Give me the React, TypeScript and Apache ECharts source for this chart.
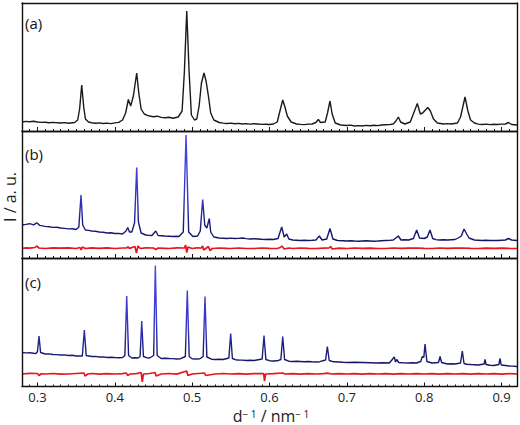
import React, { useEffect, useRef } from "react";
import * as echarts from "echarts";

// x: d^-1 (nm^-1), y: intensity (a.u.)
const xRange = [0.28, 0.92];
const panelLabels = ["(a)", "(b)", "(c)"];
const xAxisTitle = "{n|d}{s|− 1}{n| / nm}{s|− 1}";
const yAxisTitle = "I / a. u.";

const patternA: [number, number][] = [
  [0.28, 9], [0.285, 9.6], [0.29, 9.3], [0.295, 9.8], [0.30, 9], [0.305, 8.6], [0.31, 8.8], [0.315, 8.2], [0.32, 8.6], [0.33, 8], [0.335, 8.4], [0.34, 7.8], [0.348, 8.5],
  [0.352, 11], [0.3545, 22], [0.3572, 46], [0.3598, 24], [0.362, 12], [0.366, 9], [0.37, 8.3], [0.375, 7.7], [0.38, 8.1], [0.385, 7.5], [0.39, 7.9], [0.395, 7.4],
  [0.40, 8.1], [0.405, 8.6], [0.41, 11], [0.414, 18], [0.4175, 31.5], [0.4205, 25], [0.424, 35], [0.4283, 58], [0.431, 38], [0.434, 22], [0.438, 17],
  [0.442, 15.6], [0.445, 15], [0.45, 14.2], [0.455, 14.8], [0.46, 13.6], [0.465, 13.2], [0.47, 13.8], [0.475, 12.8], [0.482, 14], [0.487, 20],
  [0.490, 60], [0.4930, 120], [0.4960, 60], [0.499, 16], [0.503, 11], [0.506, 12], [0.509, 25], [0.512, 48], [0.5153, 58], [0.518, 50], [0.521, 35],
  [0.524, 18], [0.528, 11], [0.535, 8.5], [0.54, 7.9], [0.545, 7.5], [0.55, 7.9], [0.555, 7.3], [0.56, 7.6], [0.565, 7], [0.57, 7.4], [0.575, 6.9], [0.58, 7.3],
  [0.585, 7], [0.59, 6.6], [0.595, 6.8], [0.60, 6.5], [0.605, 7], [0.61, 9], [0.6135, 20], [0.6171, 31], [0.620, 24], [0.623, 15], [0.628, 9],
  [0.635, 7], [0.64, 6.6], [0.645, 6.4], [0.65, 6.9], [0.655, 7], [0.66, 8.5], [0.6631, 11.5], [0.666, 8.5], [0.672, 9], [0.675, 18], [0.6782, 30],
  [0.681, 17], [0.685, 8], [0.692, 6], [0.70, 5.5], [0.705, 5.9], [0.71, 5], [0.715, 5.4], [0.72, 5], [0.725, 5.6], [0.73, 5.3], [0.735, 5.8], [0.74, 5.4],
  [0.745, 6], [0.75, 6.2], [0.755, 6.4], [0.76, 7], [0.7635, 10], [0.7666, 14], [0.7695, 9], [0.775, 7], [0.782, 9], [0.786, 17], [0.7911, 27.5],
  [0.795, 17], [0.798, 18], [0.8046, 23.5], [0.808, 20], [0.812, 12], [0.817, 8], [0.825, 7], [0.83, 7.4], [0.835, 7], [0.843, 8], [0.847, 14],
  [0.8528, 34], [0.8565, 20], [0.86, 11], [0.865, 8], [0.87, 6.9], [0.875, 6.5], [0.88, 6.9], [0.885, 6.4], [0.89, 6.8], [0.895, 6.5], [0.90, 6.9],
  [0.905, 7], [0.909, 8.5], [0.913, 6.5], [0.92, 6],
];

const patternBObs: [number, number][] = [
  [0.28, 33], [0.285, 33.6], [0.29, 34.3], [0.295, 33.2], [0.299, 35.2], [0.303, 32.6], [0.31, 31.6], [0.315, 31.2], [0.32, 30.6], [0.325, 30.8], [0.33, 30],
  [0.335, 29.6], [0.34, 29.1], [0.345, 29.3], [0.35, 28.5], [0.3535, 31], [0.3563, 63], [0.3585, 33], [0.362, 28], [0.366, 27.6], [0.37, 27], [0.375, 26.7],
  [0.38, 26], [0.385, 25.8], [0.39, 25], [0.395, 25.2], [0.40, 24.5], [0.405, 24.6], [0.41, 24], [0.4145, 27], [0.4167, 30.5], [0.419, 26], [0.422, 26],
  [0.4255, 35], [0.4283, 90.5], [0.4305, 36], [0.434, 25], [0.44, 23], [0.444, 22.6], [0.448, 22.5], [0.4529, 27], [0.456, 22.5], [0.46, 22.3], [0.465, 22],
  [0.47, 21.8], [0.475, 21.5], [0.48, 21.7], [0.483, 21.5], [0.4885, 26], [0.4921, 123], [0.4955, 26], [0.501, 21.5], [0.507, 22], [0.5105, 27],
  [0.5136, 58.5], [0.5163, 33], [0.519, 30], [0.5222, 39.5], [0.524, 26], [0.528, 21], [0.535, 20], [0.54, 19.8], [0.545, 19.5], [0.55, 19.9],
  [0.555, 19.5], [0.56, 19.6], [0.565, 20], [0.57, 19.4], [0.575, 19], [0.58, 19.3], [0.585, 19], [0.59, 18.7], [0.595, 18.5], [0.60, 18.8], [0.605, 18.5],
  [0.611, 19.5], [0.6158, 31], [0.619, 21], [0.6222, 24], [0.625, 19], [0.63, 18], [0.635, 17.8], [0.64, 17.5], [0.645, 17.8], [0.65, 17.5], [0.655, 17.7],
  [0.66, 18], [0.6644, 22], [0.668, 18], [0.674, 19], [0.6782, 29.5], [0.682, 19], [0.688, 17.5], [0.695, 17.2], [0.70, 17], [0.705, 17.3], [0.71, 17],
  [0.715, 16.8], [0.72, 17], [0.725, 17.2], [0.73, 17], [0.735, 16.8], [0.74, 17], [0.745, 17.3], [0.75, 17.5], [0.755, 17.6], [0.76, 18], [0.7666, 22],
  [0.770, 18], [0.775, 18.2], [0.78, 18], [0.786, 19.5], [0.7903, 28], [0.794, 20], [0.80, 19.5], [0.804, 21], [0.8075, 28], [0.811, 19.5], [0.815, 18.4],
  [0.82, 18], [0.825, 18.2], [0.83, 18], [0.835, 18.3], [0.84, 18.5], [0.845, 20.5], [0.848, 22], [0.8515, 29], [0.855, 24], [0.858, 20], [0.865, 18],
  [0.87, 17.8], [0.875, 17.5], [0.88, 17.7], [0.885, 17.5], [0.89, 17.6], [0.895, 17.5], [0.90, 17.8], [0.905, 18], [0.909, 19.5], [0.913, 18], [0.92, 17.5],
];

const patternBDiff: [number, number][] = [
  [0.28, 9.5], [0.285, 10.2], [0.29, 9.8], [0.297, 10.5], [0.299, 12], [0.302, 10], [0.31, 9.5], [0.32, 10.1], [0.33, 9.8], [0.34, 10.2], [0.35, 9.5],
  [0.355, 10.5], [0.3565, 8], [0.358, 11], [0.362, 9.5], [0.37, 10.1], [0.38, 9.7], [0.39, 10.1], [0.40, 9.5], [0.41, 10], [0.415, 10], [0.417, 11],
  [0.419, 9.6], [0.426, 11.5], [0.428, 5], [0.430, 12], [0.433, 9.5], [0.44, 10.1], [0.45, 10], [0.453, 8.5], [0.456, 10], [0.465, 9.7], [0.47, 9.5],
  [0.48, 10.1], [0.49, 10], [0.4915, 13], [0.493, 5.5], [0.4945, 11], [0.50, 9.5], [0.506, 10.1], [0.512, 10], [0.5135, 12], [0.515, 8],
  [0.521, 11.5], [0.523, 7.5], [0.526, 9.5], [0.535, 10], [0.545, 9.6], [0.55, 9.5], [0.56, 10], [0.57, 9.5], [0.58, 9.5], [0.59, 10], [0.60, 9.6],
  [0.61, 9.5], [0.614, 10.5], [0.616, 12], [0.619, 9], [0.625, 10], [0.63, 9.5], [0.64, 10], [0.65, 9.6], [0.66, 9.5], [0.67, 9.9], [0.677, 10],
  [0.679, 11.5], [0.681, 9], [0.69, 9.8], [0.70, 9.5], [0.71, 10], [0.72, 9.6], [0.73, 9.9], [0.74, 9.5], [0.75, 9.5], [0.76, 10], [0.77, 9.6],
  [0.78, 9.9], [0.79, 10], [0.80, 9.6], [0.81, 9.5], [0.82, 10], [0.83, 9.6], [0.84, 9.9], [0.85, 10], [0.86, 9.6], [0.87, 9.5], [0.88, 9.9],
  [0.89, 9.6], [0.90, 9.9], [0.91, 9.6], [0.92, 9.5],
];

const patternCObs: [number, number][] = [
  [0.28, 34], [0.285, 33.6], [0.29, 33.8], [0.295, 33.2], [0.298, 33], [0.300, 35], [0.302, 50.5], [0.304, 34], [0.31, 32.5], [0.315, 32.6], [0.32, 32],
  [0.325, 31.9], [0.33, 31.5], [0.335, 31.6], [0.34, 31], [0.345, 31.2], [0.35, 30.5], [0.358, 30.5], [0.3606, 56.5], [0.363, 31], [0.37, 30],
  [0.375, 30.1], [0.38, 29.5], [0.385, 29.6], [0.39, 29], [0.395, 29.3], [0.40, 29], [0.405, 28.8], [0.41, 29], [0.413, 31], [0.4154, 90.5],
  [0.4178, 31], [0.422, 28.5], [0.426, 28.8], [0.43, 28.5], [0.4327, 30], [0.4348, 65.5], [0.437, 30], [0.441, 28.8], [0.445, 28.5], [0.4502, 31],
  [0.4524, 121], [0.4548, 31], [0.46, 28], [0.465, 28.3], [0.47, 28], [0.475, 27.9], [0.48, 27.5], [0.485, 27.8], [0.4912, 30], [0.4937, 96],
  [0.4962, 30], [0.50, 27.8], [0.505, 27.5], [0.51, 27.7], [0.5142, 30], [0.5166, 90], [0.519, 29.5], [0.525, 27.3], [0.53, 27], [0.535, 27.2],
  [0.54, 27], [0.5475, 28.5], [0.5498, 53], [0.552, 28], [0.556, 26.8], [0.56, 26.5], [0.565, 26.4], [0.57, 26], [0.575, 26.2], [0.58, 26],
  [0.5905, 27.5], [0.5929, 51], [0.5953, 27], [0.60, 25.8], [0.605, 25.5], [0.61, 25.7], [0.6147, 27], [0.6171, 50], [0.6195, 27], [0.625, 25.3],
  [0.63, 25], [0.635, 25.2], [0.64, 25], [0.645, 24.8], [0.65, 25], [0.655, 24.7], [0.66, 24.5], [0.665, 24.8], [0.6725, 26.5], [0.6748, 40],
  [0.6772, 26], [0.683, 24.7], [0.69, 24.5], [0.695, 24.2], [0.70, 24], [0.71, 24.2], [0.72, 24], [0.73, 23.8], [0.74, 23.5], [0.745, 23.8],
  [0.755, 23.5], [0.7614, 29.5], [0.763, 24.5], [0.7645, 27], [0.767, 24], [0.772, 23.7], [0.78, 23.5], [0.785, 23.7], [0.79, 23.5], [0.7955, 25],
  [0.7976, 30], [0.7995, 29], [0.8011, 42.5], [0.8035, 25], [0.81, 23.5], [0.8185, 24], [0.8205, 30], [0.8225, 24], [0.83, 22.5], [0.835, 22.7],
  [0.84, 22.5], [0.847, 23.5], [0.8493, 35.5], [0.8515, 23], [0.855, 22.3], [0.86, 22], [0.865, 21.8], [0.87, 21.5], [0.8775, 22.5], [0.8787, 27],
  [0.880, 22], [0.885, 21.3], [0.89, 21], [0.8965, 22], [0.8981, 28], [0.8995, 21.5], [0.905, 21], [0.91, 20.5], [0.915, 20.4], [0.92, 20],
];

const patternCDiff: [number, number][] = [
  [0.28, 12.5], [0.29, 13.1], [0.30, 13], [0.302, 11], [0.305, 12.7], [0.31, 12.5], [0.32, 13], [0.33, 12.4], [0.34, 12.5], [0.35, 13], [0.36, 13.5],
  [0.3615, 10.5], [0.365, 12.5], [0.37, 13], [0.38, 12.4], [0.39, 12.9], [0.40, 12.5], [0.41, 12.9], [0.415, 13.5], [0.4165, 11], [0.42, 12.5],
  [0.428, 12.9], [0.434, 14], [0.4355, 4.5], [0.437, 12.5], [0.445, 13], [0.452, 14], [0.4535, 10.5], [0.46, 12.5], [0.47, 13], [0.48, 12.4],
  [0.493, 15.5], [0.4945, 11], [0.50, 12.5], [0.508, 13], [0.516, 13.5], [0.5175, 11], [0.53, 12.5], [0.54, 13], [0.55, 12.5], [0.56, 12.9],
  [0.57, 12.4], [0.58, 12.9], [0.5925, 13], [0.5935, 5.5], [0.595, 12.5], [0.605, 12.9], [0.617, 13.5], [0.62, 12.5], [0.63, 12.9], [0.64, 12.4],
  [0.65, 12.9], [0.66, 12.5], [0.67, 12.9], [0.675, 13.4], [0.68, 12.5], [0.69, 12.9], [0.70, 12.5], [0.71, 12.9], [0.72, 12.4], [0.73, 12.9],
  [0.74, 12.5], [0.75, 12.9], [0.76, 12.4], [0.77, 12.9], [0.78, 12.5], [0.79, 12.9], [0.80, 12.5], [0.81, 12.9], [0.82, 12.4], [0.83, 12.9],
  [0.84, 12.5], [0.85, 12.9], [0.86, 12.4], [0.87, 12.9], [0.88, 12.5], [0.89, 12.9], [0.90, 12.4], [0.91, 12.9], [0.92, 12.5],
];

const FONT = "'Open Sans', 'Noto Sans', sans-serif";

export default function App() {
  const ref = useRef<HTMLDivElement>(null);
  useEffect(() => {
    if (!ref.current) return;
    const chart = echarts.init(ref.current, undefined, { renderer: "svg" });
    const gridTops = [3, 131, 258];
    const gridHeights = [128, 127, 128.5];
    const frameLine = () => ({ show: true, onZero: false, lineStyle: { color: "#111", width: 1.4 } });
    const grids = gridTops.map((t, i) => ({
      left: 22,
      width: 495,
      top: t,
      height: gridHeights[i],
      show: false,
    }));
    const xAxes: any[] = [];
    const yAxes: any[] = [];
    grids.forEach((_, i) => {
      xAxes.push({
        type: "value",
        gridIndex: i,
        position: "bottom",
        min: xRange[0],
        max: xRange[1],
        splitNumber: 6,
        axisLine: frameLine(),
        axisTick: { show: true, inside: true, length: 4, lineStyle: { color: "#111", width: 1 } },
        minorTick: { show: true, splitNumber: 10, length: 2, lineStyle: { color: "#111", width: 1 } },
        splitLine: { show: false },
        axisLabel: {
          show: i === 2,
          margin: 3,
          fontSize: 13,
          lineHeight: 14,
          color: "#222",
          fontFamily: FONT,
          formatter: (v: number) => v.toFixed(1),
        },
        z: 5,
      });
      xAxes.push({
        type: "value",
        gridIndex: i,
        position: "top",
        min: xRange[0],
        max: xRange[1],
        axisLine: frameLine(),
        axisTick: { show: false },
        axisLabel: { show: false },
        splitLine: { show: false },
        z: 5,
      });
      yAxes.push({
        type: "value",
        gridIndex: i,
        position: "left",
        min: 0,
        max: gridHeights[i],
        axisLine: frameLine(),
        axisTick: { show: false },
        axisLabel: { show: false },
        splitLine: { show: false },
        z: 5,
      });
      yAxes.push({
        type: "value",
        gridIndex: i,
        position: "right",
        min: 0,
        max: gridHeights[i],
        axisLine: frameLine(),
        axisTick: { show: false },
        axisLabel: { show: false },
        splitLine: { show: false },
        z: 5,
      });
    });
    const blueGrad = new echarts.graphic.LinearGradient(0, 0, 0, 1, [
      { offset: 0, color: "#4848ea" },
      { offset: 0.6, color: "#3434c4" },
      { offset: 0.8, color: "#1e1e86" },
      { offset: 1, color: "#141460" },
    ]);
    const mk = (data: [number, number][], idx: number, color: any, width: number) => ({
      type: "line",
      xAxisIndex: idx * 2,
      yAxisIndex: idx * 2,
      data,
      showSymbol: false,
      symbol: "none",
      lineStyle: { color, width },
      silent: true,
    });
    chart.setOption({
      animation: false,
      grid: grids,
      xAxis: xAxes,
      yAxis: yAxes,
      series: [
        mk(patternA, 0, "#1a1a1a", 1.4),
        mk(patternBDiff, 1, "#e8151d", 1.7),
        mk(patternBObs, 1, blueGrad, 1.4),
        mk(patternCDiff, 2, "#e8151d", 1.7),
        mk(patternCObs, 2, blueGrad, 1.4),
      ],
      graphic: [
        ...panelLabels.map((t, i) => ({
          type: "text",
          left: 25,
          top: [15, 146, 274][i],
          style: { text: t, fontSize: 15, fill: "#111", fontFamily: FONT },
        })),
        {
          type: "text",
          x: 10,
          y: 197,
          rotation: Math.PI / 2,
          style: {
            text: yAxisTitle,
            fontSize: 16,
            fill: "#222",
            fontFamily: FONT,
            align: "center",
            verticalAlign: "middle",
          },
        },
        {
          type: "text",
          x: 271,
          y: 416,
          style: {
            text: xAxisTitle,
            align: "center",
            verticalAlign: "middle",
            rich: {
              n: { fontSize: 16, lineHeight: 15, fill: "#222", fontFamily: FONT, verticalAlign: "bottom" },
              s: { fontSize: 10, lineHeight: 9, fill: "#222", fontFamily: FONT, verticalAlign: "top" },
            },
          },
        },
      ],
    });
    return () => chart.dispose();
  }, []);
  return <div ref={ref} style={{ position: "absolute", left: 0, top: 0, width: 520, height: 425 }} />;
}
